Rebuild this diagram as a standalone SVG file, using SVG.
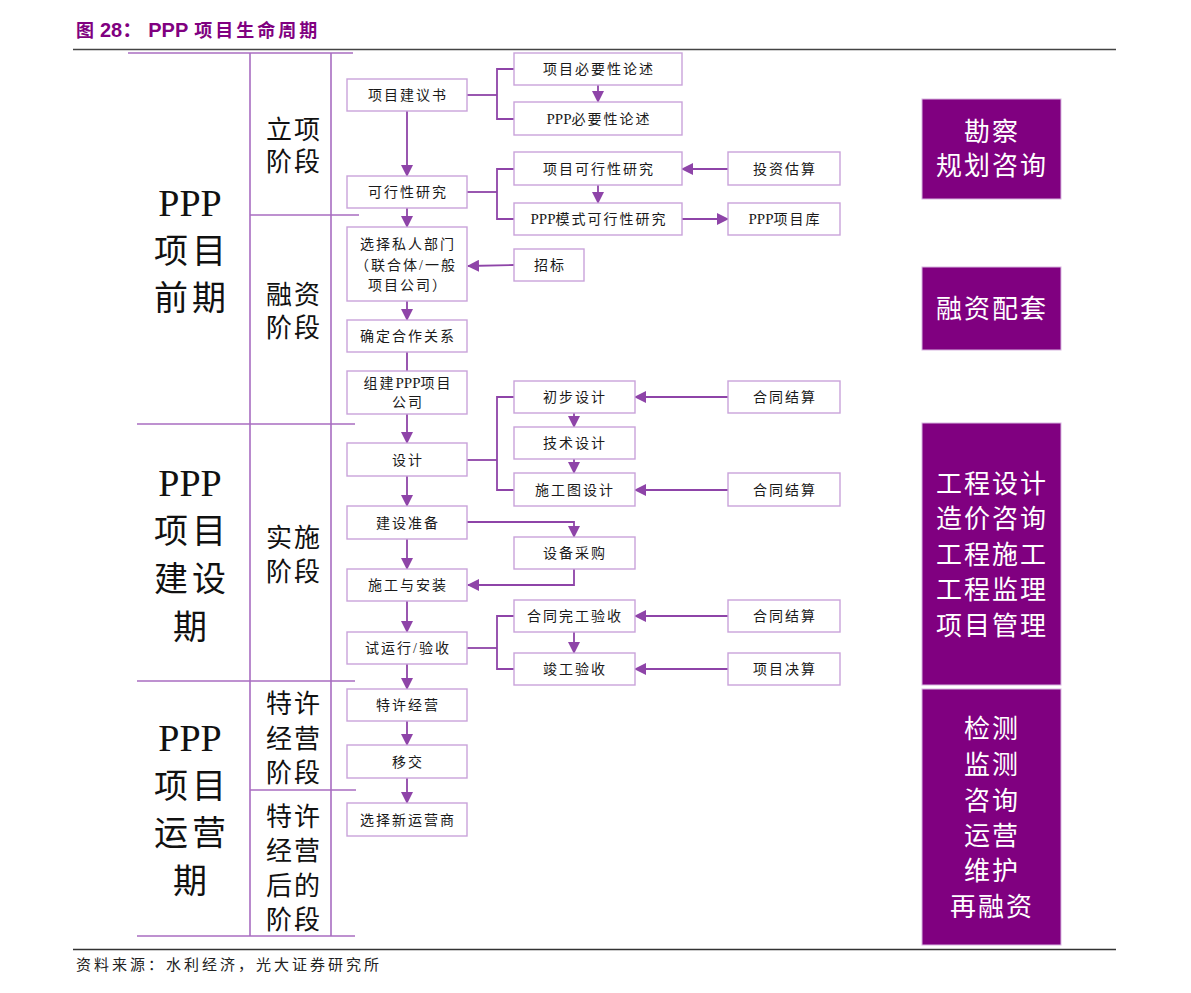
<svg xmlns="http://www.w3.org/2000/svg" width="1191" height="993" viewBox="0 0 1191 993">
<style>
.frame{stroke:#a86cc1;stroke-width:1.6;fill:none}
.box{fill:#ffffff;stroke:#c9a3da;stroke-width:1.4}
.pbox{fill:#800080;stroke:#d7b5e0;stroke-width:1}
.t{font-family:"Liberation Serif","Noto Sans CJK SC",serif;font-size:14px;fill:#1a1a1a;text-anchor:middle;letter-spacing:2px}
.lat{letter-spacing:0px;font-size:15px}
.big{font-family:"Liberation Serif","Noto Sans CJK SC",serif;font-size:34px;fill:#111;text-anchor:middle;letter-spacing:4px}
.ppp{font-family:"Liberation Serif","Noto Sans CJK SC",serif;font-size:38px;fill:#111;text-anchor:middle}
.stage{font-family:"Liberation Serif","Noto Sans CJK SC",serif;font-size:26px;fill:#111;text-anchor:middle;letter-spacing:2px}
.pt{font-family:"Liberation Serif","Noto Sans CJK SC",serif;font-size:26px;fill:#ffffff;text-anchor:middle;letter-spacing:2px}
.c{stroke:#8e44a8;stroke-width:1.8;fill:none}
</style>
<defs>
<marker id="ah" markerUnits="userSpaceOnUse" markerWidth="12" markerHeight="12" viewBox="0 0 12 12" refX="11" refY="6" orient="auto">
<path d="M0,0 L12,6 L0,12 Z" fill="#8e44a8"/>
</marker>
</defs>

<!-- title -->
<text x="76" y="37" font-family="Liberation Sans,'Noto Sans CJK SC',sans-serif" font-size="20" font-weight="bold" fill="#800080"><tspan font-size="18">图</tspan><tspan dx="6">28：</tspan><tspan dx="6">PPP</tspan><tspan dx="6" font-size="18" letter-spacing="3">项目生命周期</tspan></text>
<line x1="73" y1="49.5" x2="1116" y2="49.5" stroke="#444" stroke-width="1.5"/>

<!-- left frame -->
<g id="frame">
<line class="frame" x1="128" y1="53" x2="353" y2="53"/>
<line class="frame" x1="250" y1="53" x2="250" y2="936"/>
<line class="frame" x1="331" y1="53" x2="331" y2="936"/>
<line class="frame" x1="250" y1="215" x2="359" y2="215"/>
<line class="frame" x1="137" y1="424" x2="355" y2="424"/>
<line class="frame" x1="137" y1="681" x2="355" y2="681"/>
<line class="frame" x1="250" y1="790" x2="356" y2="790"/>
<line class="frame" x1="137" y1="936" x2="355" y2="936"/>
</g>

<g id="period-pre">
<text class="ppp" x="190" y="216">PPP</text>
<text class="big" x="192" y="263">项目</text>
<text class="big" x="192" y="310">前期</text>
</g>
<g id="period-build">
<text class="ppp" x="190" y="496">PPP</text>
<text class="big" x="192" y="543">项目</text>
<text class="big" x="192" y="591">建设</text>
<text class="big" x="192" y="639">期</text>
</g>
<g id="period-op">
<text class="ppp" x="190" y="751">PPP</text>
<text class="big" x="192" y="798">项目</text>
<text class="big" x="192" y="845">运营</text>
<text class="big" x="192" y="893">期</text>
</g>

<g id="stage-lixiang"><text class="stage" x="294" y="139">立项</text><text class="stage" x="294" y="171">阶段</text></g>
<g id="stage-rongzi"><text class="stage" x="294" y="304">融资</text><text class="stage" x="294" y="337">阶段</text></g>
<g id="stage-shishi"><text class="stage" x="294" y="547">实施</text><text class="stage" x="294" y="581">阶段</text></g>
<g id="stage-texu"><text class="stage" x="294" y="713">特许</text><text class="stage" x="294" y="748">经营</text><text class="stage" x="294" y="782">阶段</text></g>
<g id="stage-after"><text class="stage" x="294" y="826">特许</text><text class="stage" x="294" y="860">经营</text><text class="stage" x="294" y="895">后的</text><text class="stage" x="294" y="929">阶段</text></g>

<!-- connectors -->
<g id="connectors">
<line class="c" x1="407" y1="111" x2="407" y2="176" marker-end="url(#ah)"/>
<polyline class="c" points="467,95 497,95"/>
<polyline class="c" points="514,69 497,69 497,119 514,119"/>
<line class="c" x1="598" y1="85" x2="598" y2="102" marker-end="url(#ah)"/>
<polyline class="c" points="467,192 497,192"/>
<polyline class="c" points="514,169 497,169 497,219 514,219"/>
<line class="c" x1="598" y1="185" x2="598" y2="203" marker-end="url(#ah)"/>
<line class="c" x1="728" y1="169" x2="682" y2="169" marker-end="url(#ah)"/>
<line class="c" x1="682" y1="219" x2="728" y2="219" marker-end="url(#ah)"/>
<line class="c" x1="407" y1="208" x2="407" y2="227" marker-end="url(#ah)"/>
<line class="c" x1="514" y1="265" x2="468" y2="266" marker-end="url(#ah)"/>
<line class="c" x1="407" y1="301" x2="407" y2="320" marker-end="url(#ah)"/>
<line class="c" x1="407" y1="352" x2="407" y2="371"/>
<line class="c" x1="407" y1="414" x2="407" y2="443" marker-end="url(#ah)"/>
<polyline class="c" points="467,460 497,460"/>
<polyline class="c" points="514,397 497,397 497,490 514,490"/>
<line class="c" x1="574" y1="413" x2="574" y2="427" marker-end="url(#ah)"/>
<line class="c" x1="574" y1="459" x2="574" y2="473" marker-end="url(#ah)"/>
<line class="c" x1="728" y1="397" x2="635" y2="397" marker-end="url(#ah)"/>
<line class="c" x1="728" y1="490" x2="635" y2="490" marker-end="url(#ah)"/>
<line class="c" x1="407" y1="476" x2="407" y2="506" marker-end="url(#ah)"/>
<polyline class="c" points="467,522 574,522 574,537" marker-end="url(#ah)"/>
<polyline class="c" points="574,569 574,585 468,585" marker-end="url(#ah)"/>
<line class="c" x1="407" y1="539" x2="407" y2="569" marker-end="url(#ah)"/>
<line class="c" x1="407" y1="601" x2="407" y2="632" marker-end="url(#ah)"/>
<polyline class="c" points="467,648 497,648"/>
<polyline class="c" points="514,616 497,616 497,669 514,669"/>
<line class="c" x1="574" y1="632" x2="574" y2="653" marker-end="url(#ah)"/>
<line class="c" x1="728" y1="616" x2="635" y2="616" marker-end="url(#ah)"/>
<line class="c" x1="728" y1="669" x2="635" y2="669" marker-end="url(#ah)"/>
<line class="c" x1="407" y1="664" x2="407" y2="689" marker-end="url(#ah)"/>
<line class="c" x1="407" y1="721" x2="407" y2="745" marker-end="url(#ah)"/>
<line class="c" x1="407" y1="778" x2="407" y2="803" marker-end="url(#ah)"/>
</g>

<!-- main column -->
<g id="n-jianyishu"><rect class="box" x="347" y="79" width="120" height="32"/><text class="t" x="408" y="100">项目建议书</text></g>
<g id="n-kexingxing"><rect class="box" x="347" y="176" width="120" height="32"/><text class="t" x="408" y="197">可行性研究</text></g>
<g id="n-xuanze"><rect class="box" x="347" y="227" width="120" height="74"/><text class="t" x="408" y="249">选择私人部门</text><text class="t" x="406" y="270">（联合体/一般</text><text class="t" x="408" y="290">项目公司）</text></g>
<g id="n-queding"><rect class="box" x="347" y="320" width="120" height="32"/><text class="t" x="408" y="341">确定合作关系</text></g>
<g id="n-zujian"><rect class="box" x="347" y="371" width="120" height="43"/><text class="t" x="408" y="388">组建<tspan class="lat">PPP</tspan>项目</text><text class="t" x="408" y="407">公司</text></g>
<g id="n-sheji"><rect class="box" x="347" y="443" width="120" height="33"/><text class="t" x="408" y="465">设计</text></g>
<g id="n-zhunbei"><rect class="box" x="347" y="506" width="120" height="33"/><text class="t" x="408" y="528">建设准备</text></g>
<g id="n-shigong"><rect class="box" x="347" y="569" width="120" height="32"/><text class="t" x="408" y="590">施工与安装</text></g>
<g id="n-shiyunxing"><rect class="box" x="347" y="632" width="120" height="32"/><text class="t" x="408" y="653">试运行/验收</text></g>
<g id="n-texu"><rect class="box" x="347" y="689" width="120" height="32"/><text class="t" x="408" y="710">特许经营</text></g>
<g id="n-yijiao"><rect class="box" x="347" y="745" width="120" height="33"/><text class="t" x="408" y="767">移交</text></g>
<g id="n-xinyunying"><rect class="box" x="347" y="803" width="120" height="33"/><text class="t" x="408" y="825">选择新运营商</text></g>

<!-- sub column -->
<g id="n-biyao1"><rect class="box" x="514" y="53" width="168" height="32"/><text class="t" x="599" y="74">项目必要性论述</text></g>
<g id="n-biyao2"><rect class="box" x="514" y="102" width="168" height="33"/><text class="t" x="599" y="124"><tspan class="lat">PPP</tspan>必要性论述</text></g>
<g id="n-kx1"><rect class="box" x="514" y="152" width="168" height="33"/><text class="t" x="599" y="174">项目可行性研究</text></g>
<g id="n-kx2"><rect class="box" x="514" y="203" width="168" height="32"/><text class="t" x="599" y="224"><tspan class="lat">PPP</tspan>模式可行性研究</text></g>
<g id="n-zhaobiao"><rect class="box" x="514" y="249" width="70" height="32"/><text class="t" x="550" y="270">招标</text></g>
<g id="n-chubu"><rect class="box" x="514" y="381" width="121" height="32"/><text class="t" x="575" y="402">初步设计</text></g>
<g id="n-jishu"><rect class="box" x="514" y="427" width="121" height="32"/><text class="t" x="575" y="448">技术设计</text></g>
<g id="n-shigongtu"><rect class="box" x="514" y="473" width="121" height="33"/><text class="t" x="575" y="495">施工图设计</text></g>
<g id="n-shebei"><rect class="box" x="514" y="537" width="121" height="32"/><text class="t" x="575" y="558">设备采购</text></g>
<g id="n-wangong"><rect class="box" x="514" y="600" width="121" height="32"/><text class="t" x="575" y="621">合同完工验收</text></g>
<g id="n-jungong"><rect class="box" x="514" y="653" width="121" height="32"/><text class="t" x="575" y="674">竣工验收</text></g>

<!-- right column -->
<g id="n-touzi"><rect class="box" x="728" y="152" width="112" height="33"/><text class="t" x="785" y="174">投资估算</text></g>
<g id="n-xiangmuku"><rect class="box" x="728" y="203" width="112" height="32"/><text class="t" x="785" y="224"><tspan class="lat">PPP</tspan>项目库</text></g>
<g id="n-jiesuan1"><rect class="box" x="728" y="381" width="112" height="32"/><text class="t" x="785" y="402">合同结算</text></g>
<g id="n-jiesuan2"><rect class="box" x="728" y="473" width="112" height="33"/><text class="t" x="785" y="495">合同结算</text></g>
<g id="n-jiesuan3"><rect class="box" x="728" y="600" width="112" height="32"/><text class="t" x="785" y="621">合同结算</text></g>
<g id="n-juesuan"><rect class="box" x="728" y="653" width="112" height="32"/><text class="t" x="785" y="674">项目决算</text></g>

<!-- purple service boxes -->
<g id="p-kancha"><rect class="pbox" x="922" y="99" width="139" height="100"/><text class="pt" x="992" y="141">勘察</text><text class="pt" x="992" y="175">规划咨询</text></g>
<g id="p-rongzi"><rect class="pbox" x="922" y="267" width="139" height="83"/><text class="pt" x="992" y="318">融资配套</text></g>
<g id="p-gongcheng"><rect class="pbox" x="922" y="423" width="139" height="262"/><text class="pt" x="992" y="493">工程设计</text><text class="pt" x="992" y="528">造价咨询</text><text class="pt" x="992" y="564">工程施工</text><text class="pt" x="992" y="599">工程监理</text><text class="pt" x="992" y="635">项目管理</text></g>
<g id="p-jiance"><rect class="pbox" x="922" y="689" width="139" height="256"/><text class="pt" x="992" y="738">检测</text><text class="pt" x="992" y="774">监测</text><text class="pt" x="992" y="810">咨询</text><text class="pt" x="992" y="845">运营</text><text class="pt" x="992" y="880">维护</text><text class="pt" x="992" y="916">再融资</text></g>

<!-- source -->
<line x1="73" y1="949.5" x2="1116" y2="949.5" stroke="#333" stroke-width="1.5"/>
<text x="76" y="970" font-family="'Liberation Serif','Noto Sans CJK SC',serif" font-size="15" fill="#222" letter-spacing="3">资料来源：水利经济，光大证券研究所</text>
</svg>
